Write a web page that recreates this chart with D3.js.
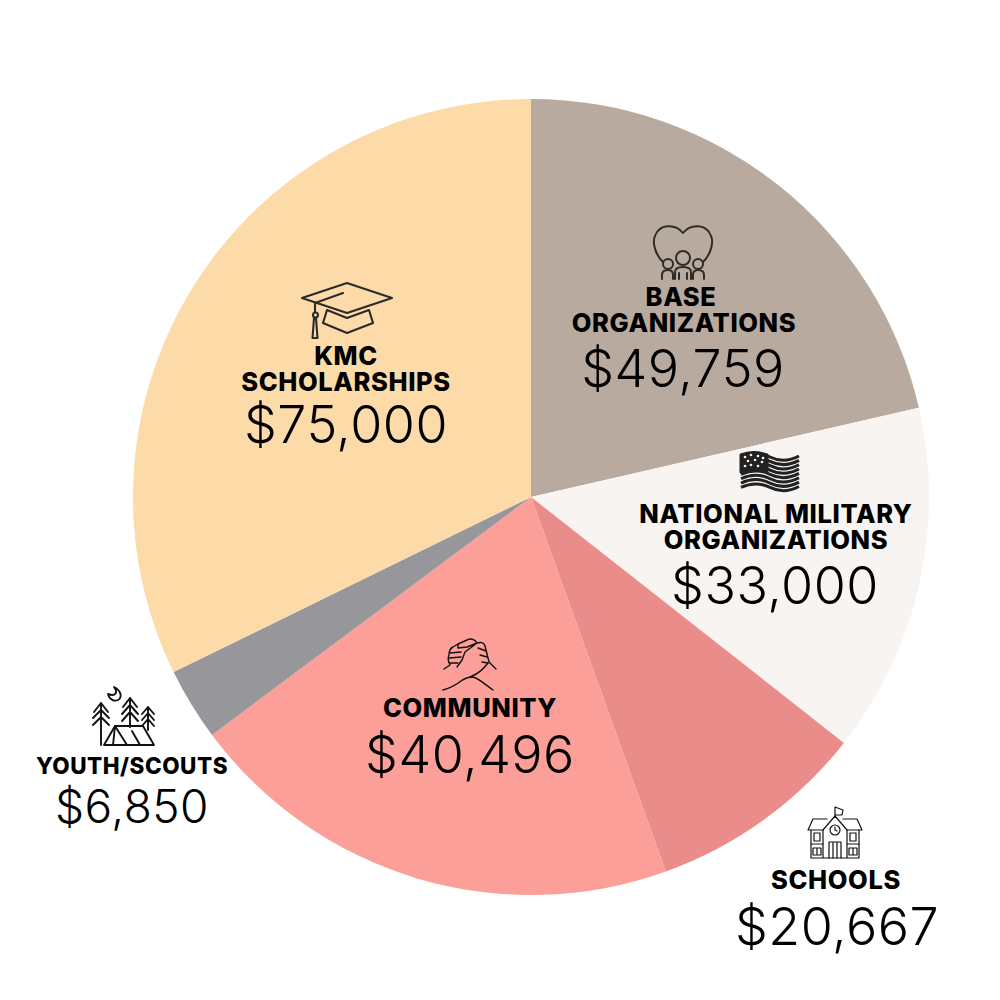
<!DOCTYPE html>
<html>
<head>
<meta charset="utf-8">
<script src="https://cdn.jsdelivr.net/npm/d3@7"></script>
<style>
html, body { margin: 0; padding: 0; background: #fff; }
svg { display: block; }
.name { font-family: Inter, sans-serif; font-weight: 800; font-size: 25.5px; letter-spacing: 0.6px; fill: #000; text-anchor: middle; }
.amount { font-family: Inter, sans-serif; font-weight: 300; font-size: 52px; letter-spacing: 0.5px; fill: #000; text-anchor: middle; }
.small.name { font-size: 22.5px; letter-spacing: 0.5px; }
.small.amount { font-size: 46px; }
.icon { fill: none; stroke: #111; stroke-width: 1.9; stroke-linejoin: round; stroke-linecap: round; }
</style>
</head>
<body>
<svg id="chart" width="1000" height="1000"></svg>
<script>
var categories = ["Base Organizations", "National Military Organizations", "Schools", "Community", "Youth/Scouts", "KMC Scholarships"];
var shares = [21.4, 14.2, 8.9, 20.3, 2.95, 32.25];
var colors = ["#b8aa9e", "#f7f4f2", "#ea8c8a", "#fb9f98", "#97969a", "#fddba9"];

var nameLines = [["BASE", "ORGANIZATIONS"], ["NATIONAL MILITARY", "ORGANIZATIONS"], ["SCHOOLS"], ["COMMUNITY"], ["YOUTH/SCOUTS"], ["KMC", "SCHOLARSHIPS"]];
var amounts = ["$49,759", "$33,000", "$20,667", "$40,496", "$6,850", "$75,000"];

var svg = d3.select("#chart");
var pieLayer = svg.append("g").attr("transform", "translate(531,497)");

var pie = d3.pie().sort(null).value(function(d){ return d; });
var arc = d3.arc().innerRadius(0).outerRadius(398);

pieLayer.selectAll("path")
	.data(pie(shares))
	.enter()
	.append("path")
	.attr("d", arc)
	.attr("fill", function(d,i){ return colors[i]; });

// where each label sits: x of each name line, baseline of first name line, amount x and baseline
var labelSpots = [
	{nameX: [681, 684], nameY: 306, amountX: 683, amountY: 387},
	{nameX: [776, 776], nameY: 523, amountX: 775, amountY: 604},
	{nameX: [836], nameY: 889, amountX: 837, amountY: 945},
	{nameX: [470], nameY: 717, amountX: 470, amountY: 773},
	{nameX: [132], nameY: 774, amountX: 132, amountY: 823, small: true},
	{nameX: [346, 346], nameY: 365, amountX: 346, amountY: 443}
];

categories.forEach(function(c, i){
	var spot = labelSpots[i];
	nameLines[i].forEach(function(line, j){
		svg.append("text").attr("class", spot.small ? "small name" : "name")
			.attr("x", spot.nameX[j])
			.attr("y", spot.nameY + j * 25.5)
			.text(line);
	});
	svg.append("text").attr("class", spot.small ? "small amount" : "amount")
		.attr("x", spot.amountX)
		.attr("y", spot.amountY)
		.text(amounts[i]);
});

// line icons, each path set drawn around its own origin
function icon(x, y){
	return svg.append("g").attr("class", "icon").attr("transform", "translate(" + x + "," + y + ")");
}
function paths(g, list){
	list.forEach(function(d){ g.append("path").attr("d", d); });
}

// family in a heart
var family = icon(683, 250);
family.style("stroke", "#2e2c2b").style("stroke-width", 2);
paths(family, [
	"M-20,12 C-30,2 -30,-10 -28,-14 C-24,-26 -8,-27 0,-17 C8,-27 24,-26 28,-14 C30,-10 30,2 20,12",
	"M-7,8 a7,7 0 1,1 14,0 a7,7 0 1,1 -14,0",
	"M-20,14 a5,5 0 1,1 10,0 a5,5 0 1,1 -10,0",
	"M10,14 a5,5 0 1,1 10,0 a5,5 0 1,1 -10,0",
	"M-8,29 V22 Q-8,17 0,17 Q8,17 8,22 V29",
	"M-4,29 V23 M4,29 V23",
	"M-21,29 V25 Q-21,20 -15,20 Q-10,20 -10,25 V29",
	"M21,29 V25 Q21,20 15,20 Q10,20 10,25 V29"
]);

// graduation cap
var cap = icon(347, 298);
cap.style("stroke", "#2a2a2a").style("stroke-width", 2.1);
paths(cap, [
	"M-45,0 L0,-15 L45,0 L0,15 Z",
	"M-4,-5 L-32,5 V14",
	"M-20,12 L-24,25 L0,35 L26,25 L22,12 L0,20 Z",
	"M-34,17 a2.5,2.5 0 1,1 5,0 a2.5,2.5 0 1,1 -5,0",
	"M-33,20 L-34.5,40 H-29.5 L-31,20 Z"
]);

// flag
var flag = icon(741, 456);
flag.style("stroke", "#222").style("stroke-width", 3).style("stroke-linecap", "butt");
d3.range(0, 8).forEach(function(k){
	flag.append("path").attr("d", "M0," + (k * 4.35 + 1) + " q15,-7 29,0 t29,-1");
});
flag.append("path").attr("d", "M0,-1 Q12,-6 26,-1 V15 Q12,10 0,16 Z").style("fill", "#222");
[[4,1],[10,-1],[17,0],[22,2],[7,5],[14,4],[21,6],[4,10],[10,9],[17,10]].forEach(function(p){
	flag.append("circle").attr("cx", p[0]).attr("cy", p[1]).attr("r", 1.3).style("fill", "#f7f4f2").style("stroke", "none");
});

// handshake
var hands = icon(470, 665);
hands.style("stroke-width", 1.4);
paths(hands, [
	"M-26,4 L-20,0 C-22,-4 -22,-8 -21,-10 C-21,-14 -19,-17 -17,-18 L-12,-21 L-3,-25 C0,-27 5,-26 7,-22 C10,-23 14,-23 15,-19 L19,-3 L26,4",
	"M-20,-12 L-9,-13 M-21,-7 L-9,-8 M-20,-2 L-12,-2",
	"M-12,-21 L-12,-17 L-3,-18 L7,-22 L-5,-13 L-8,-5 L-13,2",
	"M8,-17 L16,-14 M10,-10 L17,-8 M12,-3 L18,-2",
	"M18,-2 C14,3 10,8 0,12",
	"M-27,25 C-20,23 -14,20 -9,16 C-5,13 -2,12 3,12 C8,13 12,17 23,25"
]);

// tent and trees
var camp = icon(128, 722);
paths(camp, [
	"M-20,-28 C-19,-23 -14,-20 -10,-22 C-6,-24 -6,-31 -14,-35 C-10,-30 -12,-25 -20,-28 Z",
	"M-27,23 V-19 M-34,-10 L-27,-19 L-20,-10 M-35,-4 L-27,-12 L-19,-4 M-35,3 L-27,-5 L-19,3",
	"M2,5 V-24 M-5,-15 L2,-24 L9,-15 M-6,-8 L2,-17 L10,-8 M-6,-1 L2,-10 L10,-1",
	"M20,8 V-15 M14,-8 L20,-15 L26,-8 M14,-2 L20,-9 L26,-2 M14,4 L20,-3 L26,4",
	"M-24,23 L-13,4 H15 L26,23 Z",
	"M-13,4 L-1,23 M-13,4 L-15,23 M4,9 L12,23"
]);

// school
var school = icon(835, 830);
school.style("stroke-width", 1.2);
paths(school, [
	"M0,-14 V-23 L8,-20 L7,-15 L0,-15",
	"M-12,0 L0,-14 L12,0 M-27,0 L-22,-11 H-8 M8,-11 H22 L27,0 H12 M-27,0 H-12",
	"M-24,0 V28 H24 V0 M-12,0 V28 M12,0 V28",
	"M-6,28 V12 H6 V28 M-2,12 V28 M2,12 V28",
	"M-5,0 a5,5 0 1,1 10,0 a5,5 0 1,1 -10,0 M0,-3 V0 L2,1",
	"M-21,3 H-15 V11 H-21 Z M15,3 H21 V11 H15 Z",
	"M-24,14 H-12 M12,14 H24",
	"M-22,18 H-14 V25 H-22 Z M-18,18 V25 M14,18 H22 V25 H14 Z M18,18 V25"
]);
</script>
</body>
</html>
